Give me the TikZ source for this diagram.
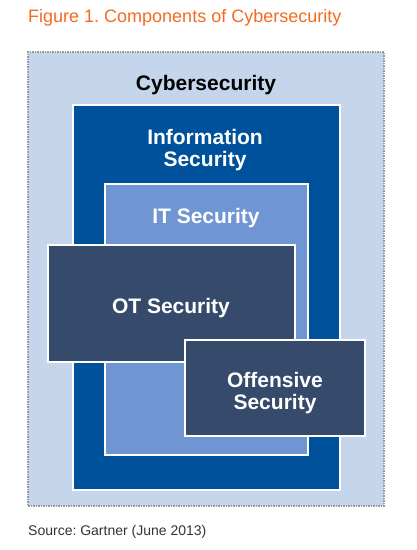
\documentclass[tikz,border=0pt]{standalone}
\usepackage{fontspec}
\setmainfont{Liberation Sans}
\frenchspacing
\definecolor{titleorange}{HTML}{F26B21}
\definecolor{outerfill}{HTML}{C5D5EC}
\definecolor{infofill}{HTML}{00519B}
\definecolor{itfill}{HTML}{6F96D2}
\definecolor{darkfill}{HTML}{364A6B}
\definecolor{srcgray}{HTML}{333333}
\begin{document}
\begin{tikzpicture}[x=1pt,y=1pt,
  boxstyle/.style={rectangle, inner sep=0pt, draw=white, line width=2pt},
  lbl/.style={font=\fontsize{21}{22}\selectfont\bfseries, text=white, align=center, inner sep=0pt}]
\useasboundingbox (0,0) rectangle (416,550);
\node[anchor=base west, text=titleorange, font=\fontsize{18}{20}\selectfont, inner sep=0pt] (title) at (28,527) {Figure 1. Components of Cybersecurity};
\node[rectangle, inner sep=0pt, fill=outerfill, draw=gray!80, densely dotted, line width=1.5pt, minimum width=356pt, minimum height=454pt] (outer) at (206,271) {};
\node[boxstyle, fill=infofill, minimum width=267pt, minimum height=385pt] (info) at (206.5,252.5) {};
\node[boxstyle, fill=itfill, minimum width=203pt, minimum height=271pt] (it) at (206,230.5) {};
\node[boxstyle, fill=darkfill, minimum width=247pt, minimum height=117pt] (ot) at (171.5,246.5) {};
\node[boxstyle, fill=darkfill, minimum width=180pt, minimum height=96pt] (off) at (275,162) {};
\node[lbl, text=black] (cyberlbl) at (206,465) {Cybersecurity};
\node[lbl] (infolbl) at (205,399.5) {Information\\Security};
\node[lbl] (itlbl) at (206,332) {IT Security};
\node[lbl] (otlbl) at (171,241.5) {OT Security};
\node[lbl] (offlbl) at (275,157) {Offensive\\Security};
\node[anchor=base west, text=srcgray, font=\fontsize{14}{16}\selectfont, inner sep=0pt] (src) at (28,15) {Source: Gartner (June 2013)};
\end{tikzpicture}
\end{document}
